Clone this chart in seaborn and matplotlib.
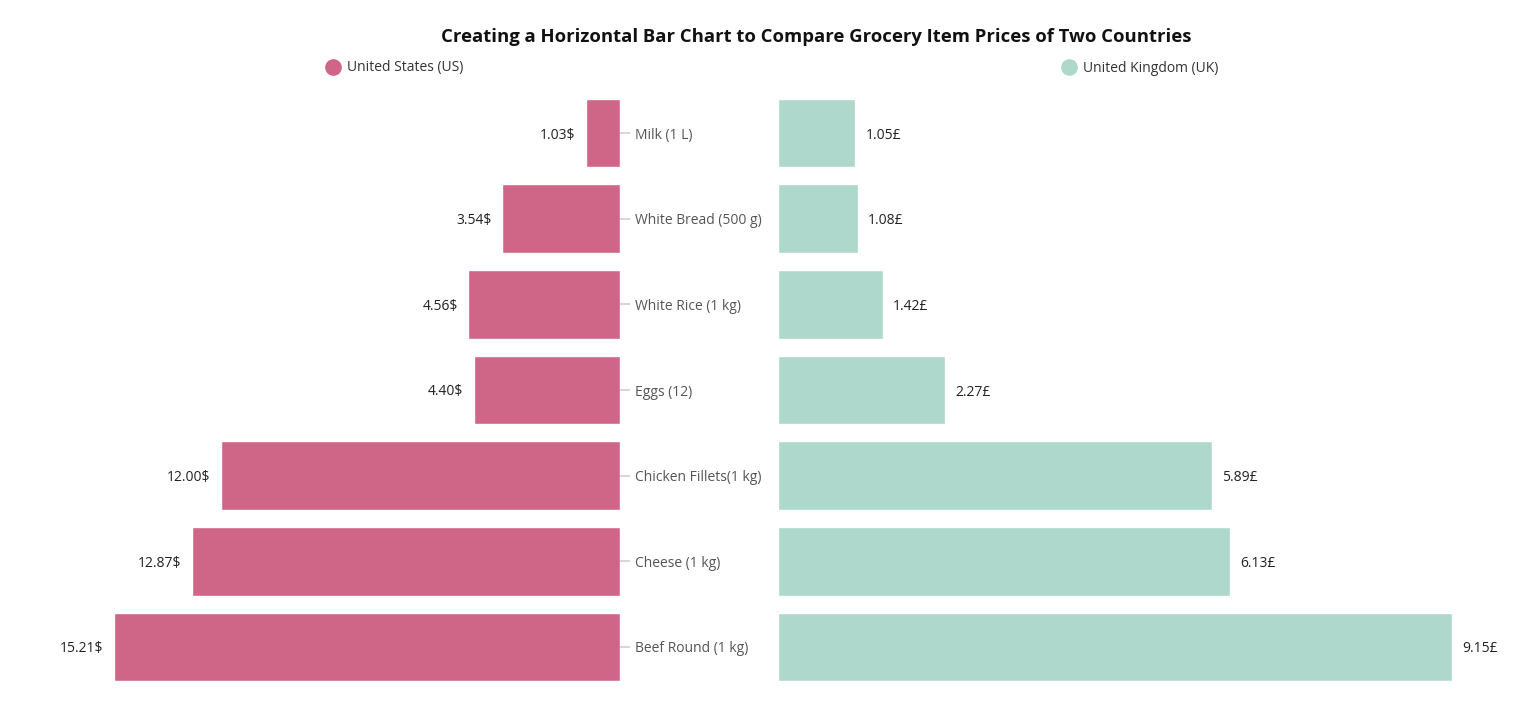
import matplotlib
matplotlib.use("Agg")
import matplotlib.pyplot as plt
import seaborn as sns
import pandas as pd
from matplotlib.lines import Line2D

items = ["Milk (1 L)", "White Bread (500 g)", "White Rice (1 kg)", "Eggs (12)",
         "Chicken Fillets(1 kg)", "Cheese (1 kg)", "Beef Round (1 kg)"]
us_prices = [1.03, 3.54, 4.56, 4.40, 12.00, 12.87, 15.21]
uk_prices = [1.05, 1.08, 1.42, 2.27, 5.89, 6.13, 9.15]
series_names = ["United States (US)", "United Kingdom (UK)"]
title = "Creating a Horizontal Bar Chart to Compare Grocery Item Prices of Two Countries"

US_COLOR = "#CF6688"
UK_COLOR = "#AED8CC"

sns.set_theme(style="white")
plt.rcParams["font.family"] = ["Open Sans", "DejaVu Sans"]

df = pd.DataFrame({"item": items, "us": us_prices, "uk": uk_prices})

W, H = 1536, 710
fig = plt.figure(figsize=(W / 100, H / 100), dpi=100)

y_top, y_bot = 90.2, 689.8
ax_b = 1 - y_bot / H
ax_h = (y_bot - y_top) / H
axL = fig.add_axes([114 / W, ax_b, (620 - 114) / W, ax_h])
axR = fig.add_axes([778 / W, ax_b, (1452 - 778) / W, ax_h])

sns.barplot(data=df, x="us", y="item", color=US_COLOR, saturation=1, width=0.8, ax=axL)
sns.barplot(data=df, x="uk", y="item", color=UK_COLOR, saturation=1, width=0.8, ax=axR)

axL.set_xlim(max(us_prices), 0)
axR.set_xlim(0, max(uk_prices))
for ax in (axL, axR):
    ax.set_ylim(len(items) - 0.5, -0.5)
    ax.set_xlabel("")
    ax.set_ylabel("")
    ax.set_xticks([])
    for s in ax.spines.values():
        s.set_visible(False)

labs = axL.bar_label(axL.containers[0], labels=[f"{v:.2f}$" for v in us_prices],
                     padding=7.5, fontsize=10, color="#222222")
labs += axR.bar_label(axR.containers[0], labels=[f"{v:.2f}£" for v in uk_prices],
                      padding=7.5, fontsize=10, color="#222222")
for t in labs:
    t.set_va("center_baseline")

axL.yaxis.tick_right()
axL.tick_params(axis="y", length=7.5, width=1.2, color="#d0d0d0", pad=3,
                labelsize=10, labelcolor="#555555")
for t in axL.get_yticklabels():
    t.set_va("center_baseline")
axR.tick_params(axis="y", length=7, width=1.2, color="#d0d0d0", labelleft=False)

fig.text(816 / W, 1 - 37 / H, title, ha="center", va="center",
         fontsize=13.3, fontweight="bold", color="#111111")

h_us = Line2D([], [], marker="o", linestyle="", markersize=11, color=US_COLOR)
h_uk = Line2D([], [], marker="o", linestyle="", markersize=11, color=UK_COLOR)
for h, name, x0 in ((h_us, series_names[0], 325), (h_uk, series_names[1], 1061)):
    fig.legend(handles=[h], labels=[name], loc="center left",
               bbox_to_anchor=(x0 / W, 1 - 68 / H), frameon=False,
               fontsize=10, handlelength=1.2, handletextpad=0.4,
               borderpad=0, borderaxespad=0, labelcolor="#333333")

fig.savefig("out.png", dpi=100, facecolor="white")
